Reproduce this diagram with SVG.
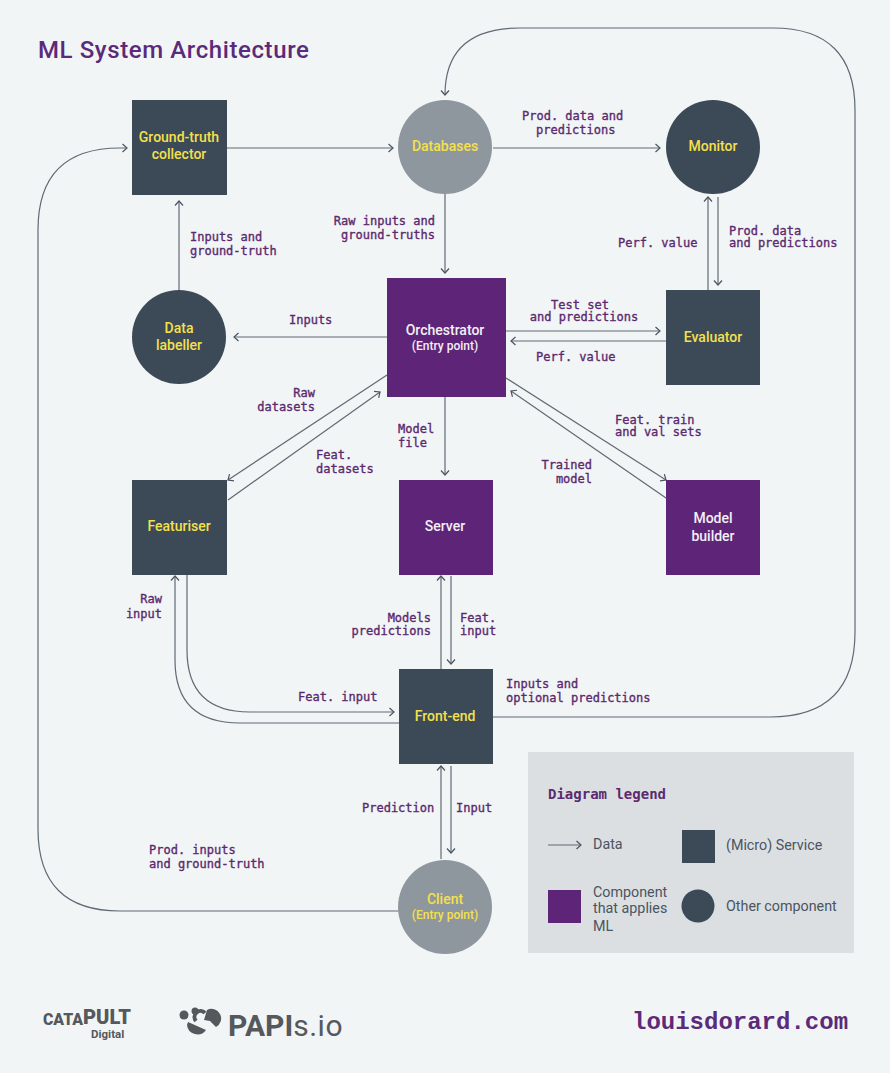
<svg xmlns="http://www.w3.org/2000/svg" width="890" height="1073" viewBox="0 0 890 1073">
<defs>
<marker id="a" markerUnits="userSpaceOnUse" markerWidth="12" markerHeight="12" refX="8" refY="6" orient="auto"><path d="M3.500 2L8 6L3.500 10" fill="none" stroke="#4a5561" stroke-width="1.200"/></marker>
</defs>
<style>
.c{fill:none;stroke:#5f6a74;stroke-width:1.200;marker-end:url(#a)}
.s{fill:#3c4a57}.m{fill:#5e2478}.g{fill:#8f979e}
.n{font:500 14px Roboto,"Liberation Sans",sans-serif;text-anchor:middle}
.w{fill:#f3f0f6}.y{fill:#f4e04d}
.l{font:500 12px "DejaVu Sans Mono","Liberation Mono",monospace;fill:#5b2a6e;stroke:#5b2a6e;stroke-width:.35}
.e{text-anchor:end}.d{text-anchor:middle}
.k{font:14.300px Roboto,"Liberation Sans",sans-serif;fill:#4a5561}
</style>
<rect width="890" height="1073" fill="#f2f5f6"/>
<text x="38" y="58" font-family="Roboto,'Liberation Sans',sans-serif" font-weight="500" font-size="24" letter-spacing=".6" fill="#5b2a7a">ML System Architecture</text>
<g id="connectors">
<path class="c" d="M493 717H770Q855 717 855 632V110Q855 28 773 28H520Q445 28 445 95"/>
<path class="c" d="M399 911H120Q38 911 38 829V230Q38 148 120 148H127"/>
<path class="c" d="M227 148H393"/>
<path class="c" d="M493 148H660"/>
<path class="c" d="M445 194V273"/>
<path class="c" d="M179 290V201"/>
<path class="c" d="M387 337H234"/>
<path class="c" d="M506 331H660"/>
<path class="c" d="M666 341H511"/>
<path class="c" d="M708 290V197"/>
<path class="c" d="M718 197V285"/>
<path class="c" d="M387 375L228 480"/>
<path class="c" d="M228 500L380 392"/>
<path class="c" d="M445 397V475"/>
<path class="c" d="M506 378L666 480"/>
<path class="c" d="M666 498L511 391"/>
<path class="c" d="M441 669V576"/>
<path class="c" d="M451 576V664"/>
<path class="c" d="M187 575V650Q187 712 250 712H394"/>
<path class="c" d="M399 723H240Q175 723 175 660V576"/>
<path class="c" d="M441 859V766"/>
<path class="c" d="M451 766V853"/>
</g>
<g id="gt"><rect class="s" x="132" y="100" width="95" height="95"/><text class="n y"><tspan x="179" y="142">Ground-truth</tspan><tspan x="179" y="159">collector</tspan></text></g>
<g id="databases"><circle class="g" cx="445" cy="147" r="47"/><text class="n y" x="445" y="151">Databases</text></g>
<g id="monitor"><circle class="s" cx="713" cy="147" r="47"/><text class="n y" x="713" y="151">Monitor</text></g>
<g id="labeller"><circle class="s" cx="179" cy="337" r="47"/><text class="n y"><tspan x="179" y="333">Data</tspan><tspan x="179" y="350">labeller</tspan></text></g>
<g id="orchestrator"><rect class="m" x="387" y="278" width="119" height="119"/><text class="n w" x="445" y="335">Orchestrator</text><text class="n w" x="445" y="350" style="font-size:12px">(Entry point)</text></g>
<g id="evaluator"><rect class="s" x="666" y="290" width="94" height="95"/><text class="n y" x="713" y="342">Evaluator</text></g>
<g id="featuriser"><rect class="s" x="132" y="480" width="95" height="95"/><text class="n y" x="179" y="531">Featuriser</text></g>
<g id="server"><rect class="m" x="399" y="480" width="94" height="95"/><text class="n w" x="445" y="531">Server</text></g>
<g id="builder"><rect class="m" x="666" y="480" width="94" height="95"/><text class="n w"><tspan x="713" y="523">Model</tspan><tspan x="713" y="541">builder</tspan></text></g>
<g id="frontend"><rect class="s" x="399" y="669" width="94" height="95"/><text class="n y" x="445" y="721">Front-end</text></g>
<g id="client"><circle class="g" cx="445" cy="907" r="47"/><text class="n y" x="445" y="904">Client</text><text class="n y" x="445" y="919" style="font-size:12px">(Entry point)</text></g>
<g id="labels">
<text class="l"><tspan x="522" y="120">Prod. data and</tspan><tspan x="536" y="134">predictions</tspan></text>
<text class="l e"><tspan x="435" y="225">Raw inputs and</tspan><tspan x="435" y="239">ground-truths</tspan></text>
<text class="l"><tspan x="190" y="241">Inputs and</tspan><tspan x="190" y="255">ground-truth</tspan></text>
<text class="l" x="618" y="247">Perf. value</text>
<text class="l"><tspan x="729" y="235">Prod. data</tspan><tspan x="729" y="247">and predictions</tspan></text>
<text class="l" x="289" y="324">Inputs</text>
<text class="l d"><tspan x="580" y="309">Test set</tspan><tspan x="584" y="321">and predictions</tspan></text>
<text class="l" x="536" y="361">Perf. value</text>
<text class="l e"><tspan x="315" y="397">Raw</tspan><tspan x="315" y="411">datasets</tspan></text>
<text class="l"><tspan x="316" y="459">Feat.</tspan><tspan x="316" y="473">datasets</tspan></text>
<text class="l"><tspan x="398" y="433">Model</tspan><tspan x="398" y="447">file</tspan></text>
<text class="l"><tspan x="615" y="424">Feat. train</tspan><tspan x="615" y="436">and val sets</tspan></text>
<text class="l e"><tspan x="592" y="469">Trained</tspan><tspan x="592" y="483">model</tspan></text>
<text class="l e"><tspan x="162" y="603">Raw</tspan><tspan x="162" y="618">input</tspan></text>
<text class="l e"><tspan x="431" y="622">Models</tspan><tspan x="431" y="635">predictions</tspan></text>
<text class="l"><tspan x="460" y="622">Feat.</tspan><tspan x="460" y="635">input</tspan></text>
<text class="l" x="298" y="701">Feat. input</text>
<text class="l"><tspan x="506" y="688">Inputs and</tspan><tspan x="506" y="702">optional predictions</tspan></text>
<text class="l" x="362" y="812">Prediction</text>
<text class="l" x="456" y="812">Input</text>
<text class="l"><tspan x="149" y="854">Prod. inputs</tspan><tspan x="149" y="868">and ground-truth</tspan></text>
</g>
<g id="legend">
<rect x="528" y="752" width="326" height="201" fill="#dcdfe2"/>
<text x="548" y="799" font-family="'DejaVu Sans Mono','Liberation Mono',monospace" font-weight="700" font-size="14" fill="#5b2a6e">Diagram legend</text>
<path class="c" d="M548 845H581"/>
<text class="k" x="593" y="849">Data</text>
<rect class="s" x="682" y="830" width="33" height="33"/>
<text class="k" x="726" y="850">(Micro) Service</text>
<rect class="m" x="548" y="890" width="33" height="33"/>
<text class="k"><tspan x="593" y="897">Component</tspan><tspan x="593" y="913">that applies</tspan><tspan x="593" y="931">ML</tspan></text>
<circle class="s" cx="698" cy="906" r="16.500"/>
<text class="k" x="726" y="911">Other component</text>
</g>
<g id="logos" fill="#55585c" font-family="Roboto,'Liberation Sans',sans-serif">
<text x="43" y="1025" font-weight="900" font-size="16" textLength="40" lengthAdjust="spacingAndGlyphs">CATA</text>
<text x="83" y="1024" font-weight="900" font-size="21" textLength="48" lengthAdjust="spacingAndGlyphs">PULT</text>
<text x="91" y="1038" font-weight="700" font-size="11.500">Digital</text>
<circle cx="184" cy="1015" r="4.500"/><circle cx="195" cy="1011" r="3.500"/>
<path d="M204 1020L207 1010A9.500 9.500 0 1 1 216 1027L210 1021Z"/>
<path d="M188 1022L206 1030A10.500 10.500 0 0 1 187 1025Z"/>
<path d="M196 1021A6 6 0 0 1 205 1013" fill="none" stroke="#55585c" stroke-width="4"/>
<text x="228" y="1036" font-weight="700" font-size="30">PAPI<tspan font-weight="400" letter-spacing=".5">s.io</tspan></text>
<text x="632" y="1029" font-family="'Liberation Mono',monospace" font-weight="700" font-size="24" fill="#5b2a7a">louisdorard.com</text>
</g>
</svg>
